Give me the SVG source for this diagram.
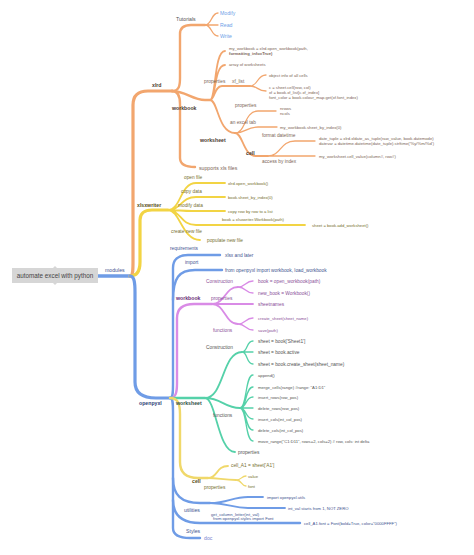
<svg xmlns="http://www.w3.org/2000/svg" width="474" height="555" viewBox="0 0 474 555">
<style>
.c{fill:none;stroke-linecap:round;stroke-linejoin:round}
.o{stroke:#f2a66e}.y{stroke:#f2d444}.b{stroke:#6f9ce6}.p{stroke:#d98be6}.t{stroke:#55d1a9}.cy{stroke:#f0d86a}
.w0{stroke-width:3.6}.w1{stroke-width:3.2}.w2{stroke-width:2.4}.w3{stroke-width:1.8}.w4{stroke-width:1.3}
text{font-family:"Liberation Sans",Arial,sans-serif}
.lf{font-size:4.2px}.lb{font-size:4.8px}.md{font-size:5.2px}.bd{font-weight:bold;font-size:5.2px}
.to{fill:#7c6556}.ty{fill:#77702f}.tb{fill:#3f5590}.tp{fill:#8a4f98}.tt{fill:#555}.tl{fill:#6f9fe8}.tg{fill:#555}
.ko{fill:#4a3b30}.ky{fill:#5a5020}.kb{fill:#2e3f78}.kp{fill:#6a2f78}.kt{fill:#2f4f46}
</style>
<g id="connectors">
<path class="c b w0" d="M98,276 L130,276"/>
<!-- orange xlrd -->
<path class="c o w1" d="M130,276 C133,276 133,270 133,262 L133,105 C133,96 138,91 148,91 L172,91"/>
<path class="c o w2" d="M172,91 C179,91 180,86 180,78 L180,34 C180,28 184,25 191,25 L205,25"/>
<path class="c o w4" d="M205,25 C212,25 211,13 218,13 M205,25 L218,25 M205,25 C212,25 211,36 218,36"/>
<path class="c o w2" d="M172,91 C186,91 192,100 205,100 L210,100"/>
<path class="c o w3" d="M210,100 C216,100 214,51 225,51 M210,100 C216,100 214,65 225,65 M210,100 C215,100 214,86 222,86 L250,86"/>
<path class="c o w4" d="M250,86 C258,86 257,75 266,75 M250,86 C258,86 257,91 266,91"/>
<path class="c o w3" d="M210,100 C218,100 218,133 235,133"/>
<path class="c o w4" d="M235,133 C246,133 244,111 258,111 L276,111 M235,133 C246,133 246,127 258,127 L277,127"/>
<path class="c o w3" d="M235,133 C243,133 243,156 256,156 L268,156"/>
<path class="c o w4" d="M268,156 C281,156 280,141 295,141 L315,141 M268,156 L315,156"/>
<path class="c o w2" d="M172,91 C178,91 180,96 180,104 L180,158 C180,164 185,167 195,167"/>
<!-- yellow xlsxwriter -->
<path class="c y w1" d="M130,276 C137,276 140,271 140,262 L140,220 C140,214 144,210 152,210 L168,210"/>
<path class="c y w3" d="M168,210 C181,210 180,183 196,183 L225,183 M168,210 C181,210 181,197 196,197 L225,197 M168,210 C178,210 182,211 192,211 L225,211 M168,210 C181,210 180,225 196,225 L305,225 M168,210 C180,210 182,240 200,240"/>
<!-- blue openpyxl -->
<path class="c b w1" d="M130,276 C134,276 135,282 135,292 L135,382 C135,393 142,398 156,398 L170,398"/>
<path class="c b w2" d="M170,398 C173,398 173,392 173,384 L173,268 C173,260 178,255 188,255 L220,255"/>
<path class="c b w2" d="M173,300 C173,278 179,270 195,270 L222,270"/>
<path class="c b w2" d="M170,398 C173,398 173,404 173,412 L173,528 C173,535 179,538 190,538 L200,538"/>
<path class="c b w2" d="M173,478 C173,495 181,503 200,503 L210,503"/>
<path class="c b w3" d="M210,503 C228,503 232,497 248,497 L263,497 M210,503 C228,503 232,508 248,508 L285,508"/>
<path class="c b w2" d="M173,500 C173,515 182,523 200,523 L300,523"/>
<!-- purple workbook -->
<path class="c p w2" d="M170,398 C176,398 177,392 177,383 L177,318 C177,309 182,304 194,304 L212,304"/>
<path class="c p w3" d="M212,304 C225,304 225,287 238,287 M212,304 L253,304 M212,304 C225,304 225,324 238,324"/>
<path class="c p w4" d="M238,287 C246,287 245,281 253,281 M238,287 C246,287 245,293 253,293 M238,324 C246,324 245,318 253,318 M238,324 C246,324 245,330 253,330"/>
<!-- teal worksheet -->
<path class="c t w2" d="M170,398 L205,398"/>
<path class="c t w3" d="M205,398 C224,398 222,352 242,352 M205,398 C222,398 224,408 240,408 M205,398 C216,398 218,452 235,452"/>
<path class="c t w4" d="M242,352 C248,352 246,341 253,341 M242,352 L253,352 M242,352 C248,352 246,364 253,364"/>
<path class="c t w4" d="M240,408 C247,408 245,375 253,375 M240,408 C247,408 245,387 253,387 M240,408 C247,408 245,397 253,397 M240,408 L253,408 M240,408 C247,408 245,419 253,419 M240,408 C247,408 245,430 253,430 M240,408 C247,408 245,441 253,441"/>
<!-- yellow cell -->
<path class="c cy w2" d="M170,398 C178,398 180,404 180,414 L180,462 C180,473 187,478 198,478 L208,478"/>
<path class="c cy w3" d="M208,478 C218,478 216,466 228,466 M208,478 C218,478 224,480 236,480"/>
<path class="c cy w4" d="M236,480 C242,480 241,476 246,476 M236,480 C242,480 241,486 246,486"/>
</g>
<g id="root"><rect x="12" y="268" width="86" height="15" fill="#d6d6d6"/><path d="M53,268 l2,-2 l2,2z M53,283 l2,2 l2,-2z" fill="#d6d6d6"/><text x="55" y="278" text-anchor="middle" font-size="6.3" fill="#444">automate excel with python</text></g>
<g id="modules"><text x="105" y="272" class="md tb">modules</text></g>
<!-- xlrd -->
<g id="xlrd"><text x="152" y="87" class="bd ko">xlrd</text></g>
<g id="tutorials"><text x="176" y="21" class="md tg">Tutorials</text></g>
<g id="modify"><text x="220" y="15" class="md tl" font-size="5.5">Modify</text></g>
<g id="read"><text x="220" y="27" class="md tl">Read</text></g>
<g id="write"><text x="220" y="38" class="md tl">Write</text></g>
<g id="xlrd-open"><text x="229" y="49.5" class="lf to">my_workbook = xlrd.open_workbook(path,</text><text x="229" y="55" class="lf to" font-weight="bold">formatting_info=True)</text></g>
<g id="xlrd-array"><text x="229" y="66" class="lf to">array of worksheets</text></g>
<g id="xlrd-props"><text x="204" y="82.5" class="lb to">properties</text></g>
<g id="xlrd-xflist"><text x="232" y="82.5" class="lb to">xf_list</text></g>
<g id="xlrd-objinfo"><text x="269" y="76.5" class="lf to">object info of all cells</text></g>
<g id="xlrd-xfcode"><text x="269" y="88.5" class="lf to">c = sheet.cell(row, col)</text><text x="269" y="93.5" class="lf to">xf = book.xf_list[c.xf_index]</text><text x="269" y="98.5" class="lf to">font_color = book.colour_map.get(xf.font_index)</text></g>
<g id="xlrd-workbook"><text x="172" y="110" class="bd ko">workbook</text></g>
<g id="xlrd-ws-props"><text x="235" y="106.5" class="lb to">properties</text></g>
<g id="xlrd-rows"><text x="280" y="109.5" class="lf to">nrows</text><text x="280" y="115" class="lf to">ncols</text></g>
<g id="xlrd-tab"><text x="230" y="123.5" class="lb to">an excel tab</text></g>
<g id="xlrd-sheetidx"><text x="280" y="128.5" class="lf to">my_workbook.sheet_by_index(0)</text></g>
<g id="xlrd-worksheet"><text x="200" y="141.5" class="bd ko">worksheet</text></g>
<g id="xlrd-fmt"><text x="262" y="136.5" class="lb to">format datetime</text></g>
<g id="xlrd-date"><text x="319" y="139.5" class="lf to">date_tuple = xlrd.xldate_as_tuple(raw_value, book.datemode)</text><text x="319" y="144.5" class="lf to">datevar = datetime.datetime(date_tuple).strftime('%y/%m/%d')</text></g>
<g id="xlrd-cell"><text x="246" y="155" class="bd ko">cell</text></g>
<g id="xlrd-cellvalue"><text x="319" y="157.5" class="lf to">my_worksheet.cell_value(column#, row#)</text></g>
<g id="xlrd-access"><text x="262" y="163" class="lb to">access by index</text></g>
<g id="xlrd-xls"><text x="199" y="169.5" class="md to">supports xls files</text></g>
<!-- xlsxwriter -->
<g id="xlsxwriter"><text x="137" y="207" class="bd ky">xlsxwriter</text></g>
<g id="xw-open"><text x="184" y="178.5" class="lb ty">open file</text><text x="228" y="184.5" class="lf ty">xlrd.open_workbook()</text></g>
<g id="xw-copy"><text x="181" y="192.5" class="lb ty">copy data</text><text x="228" y="198.5" class="lf ty">book.sheet_by_index(0)</text></g>
<g id="xw-modify"><text x="178" y="206.5" class="lb ty">modify data</text><text x="228" y="212.5" class="lf ty">copy row by row to a list</text></g>
<g id="xw-create"><text x="171" y="232.5" class="lb ty">create new file</text><text x="222" y="220.5" class="lf ty">book = xlsxwriter.Workbook(path)</text><text x="312" y="226.5" class="lf ty">sheet = book.add_worksheet()</text></g>
<g id="xw-populate"><text x="207" y="241.5" class="lb ty">populate new file</text></g>
<!-- openpyxl -->
<g id="openpyxl"><text x="139" y="405" class="bd kb" font-size="5.8">openpyxl</text></g>
<g id="op-req"><text x="170" y="249.5" class="lb tb">requirements</text><text x="225" y="256.5" class="lb tb">xlsx and later</text></g>
<g id="op-import"><text x="185" y="263.5" class="lb tb">import</text><text x="225" y="271.5" class="lb tb">from openpyxl import workbook, load_workbook</text></g>
<g id="op-workbook"><text x="176" y="300" class="bd kp">workbook</text></g>
<g id="op-wb-cons"><text x="206" y="282.5" class="lb tp">Construction</text><text x="258" y="282.5" class="lb tp">book = open_workbook(path)</text><text x="258" y="294.5" class="lb tp">new_book = Workbook()</text></g>
<g id="op-wb-props"><text x="211" y="300" class="lb tp">properties</text><text x="258" y="306" class="lb tp">sheetnames</text></g>
<g id="op-wb-func"><text x="213" y="331.5" class="lb tp">functions</text><text x="258" y="319.5" class="lf tp">create_sheet(sheet_name)</text><text x="258" y="331.5" class="lf tp">save(path)</text></g>
<g id="op-worksheet"><text x="176" y="405" class="bd kt">worksheet</text></g>
<g id="op-ws-cons"><text x="206" y="348.5" class="lb tt">Construction</text><text x="258" y="343" class="lb tt">sheet = book['Sheet1']</text><text x="258" y="354" class="lb tt">sheet = book.active</text><text x="258" y="366" class="lb tt">sheet = book.create_sheet(sheet_name)</text></g>
<g id="op-ws-func"><text x="213" y="416.5" class="lb tt">functions</text>
<text x="258" y="376.5" class="lf tt">append()</text>
<text x="258" y="388.5" class="lf tt">merge_cells(range) #range: "A1:D1"</text>
<text x="258" y="398.5" class="lf tt">insert_rows(row_pos)</text>
<text x="258" y="409.5" class="lf tt">delete_rows(row_pos)</text>
<text x="258" y="420.5" class="lf tt">insert_cols(int_col_pos)</text>
<text x="258" y="431.5" class="lf tt">delete_cols(int_col_pos)</text>
<text x="258" y="442.5" class="lf tt">move_range("C1:D11", rows=2, cols=2) # row, cols: int delta</text></g>
<g id="op-ws-props"><text x="238" y="454" class="lb tt">properties</text></g>
<g id="op-cell"><text x="192" y="483" class="bd ky">cell</text><text x="231" y="466.5" class="lb ty">cell_A1 = sheet['A1']</text></g>
<g id="op-cell-props"><text x="204" y="488.5" class="lb ty">properties</text><text x="248" y="477.5" class="lf ty">value</text><text x="248" y="487.5" class="lf ty">font</text></g>
<g id="op-util"><text x="184" y="512" class="md tb">utilities</text><text x="267" y="498.5" class="lf tb">import openpyxl.utils</text><text x="211" y="515.5" class="lf tb">get_column_letter(int_val)</text><text x="288" y="509.5" class="lf tb">int_val starts from 1, NOT ZERO</text></g>
<g id="op-styles"><text x="186" y="532.5" class="md tb">Styles</text><text x="213" y="520" class="lf tb">from openpyxl.styles import Font</text><text x="304" y="525" class="lf tb">cell_A1.font = Font(bold=True, color="0000FFFF")</text></g>
<g id="op-doc"><text x="204" y="540" class="md" fill="#7a84d0">doc</text></g>
</svg>
